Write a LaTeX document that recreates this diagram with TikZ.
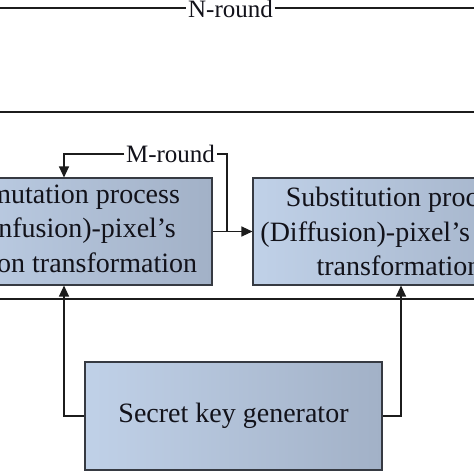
\documentclass[tikz,border=0pt]{standalone}
\usepackage{fontspec}
\setmainfont{Liberation Serif}
\usetikzlibrary{arrows.meta}
\definecolor{boxA}{HTML}{C0D1E8}
\definecolor{boxB}{HTML}{A2B1C7}
\definecolor{boxline}{HTML}{363A42}
\definecolor{inkc}{HTML}{12121A}
\definecolor{wirec}{HTML}{1C1C1C}
\begin{document}
\begin{tikzpicture}[x=1pt,y=-1pt,
  proc/.style={draw=boxline, line width=1.1pt, left color=boxA, right color=boxB,
    text=inkc, align=center, font=\fontsize{28}{34.5}\selectfont, inner sep=0pt},
  lab/.style={fill=white, text=inkc, inner sep=1.5pt, font=\fontsize{25}{30}\selectfont},
  wire/.style={draw=wirec, line width=1.2pt},
  conn/.style={wire, -{Triangle[length=11pt,width=10pt]}}]
\useasboundingbox (0,0) rectangle (474,474);
\clip (0,0) rectangle (474,474);
% enclosure lines
\coordinate (aL) at (-10,112); \coordinate (aR) at (484,112);
\coordinate (bL) at (-10,299); \coordinate (bR) at (484,299);
\draw[wire] (aL) -- (aR);
\draw[wire] (bL) -- (bR);
% N-round
\node[lab] (nlabel) at (230.5,9) {N-round};
\coordinate (nL) at (-10,8); \coordinate (nR) at (484,8);
\draw[wire] (nL) -- (nL -| nlabel.west);
\draw[wire] (nR -| nlabel.east) -- (nR);
% boxes
\node[proc, minimum width=292pt, minimum height=107pt] (perm) at (66,231.5)
  {Permutation process\\(Confusion)-pixel's\\position transformation};
\node[proc, minimum width=292pt, minimum height=107pt] (subst) at (399,231.5)
  {Substitution process\\(Diffusion)-pixel's value\\transformation};
\node[proc, minimum width=297pt, minimum height=108pt] (key) at (233.5,416)
  {Secret key generator};
% arrows
\draw[conn] (perm.east) -- (subst.west);
\coordinate (mj) at (227,231.5);
\coordinate (mtop) at (227,154);
\node[lab] (mlabel) at (170.5,154) {M-round};
\draw[wire] (mj) -- (mtop) -- (mlabel.east);
\draw[conn] (mlabel.west) -| ([xshift=-2pt]perm.north);
\draw[conn] (key.west) -| ([xshift=-2pt]perm.south);
\draw[conn] (key.east) -| ([xshift=2pt]subst.south);
\end{tikzpicture}
\end{document}
